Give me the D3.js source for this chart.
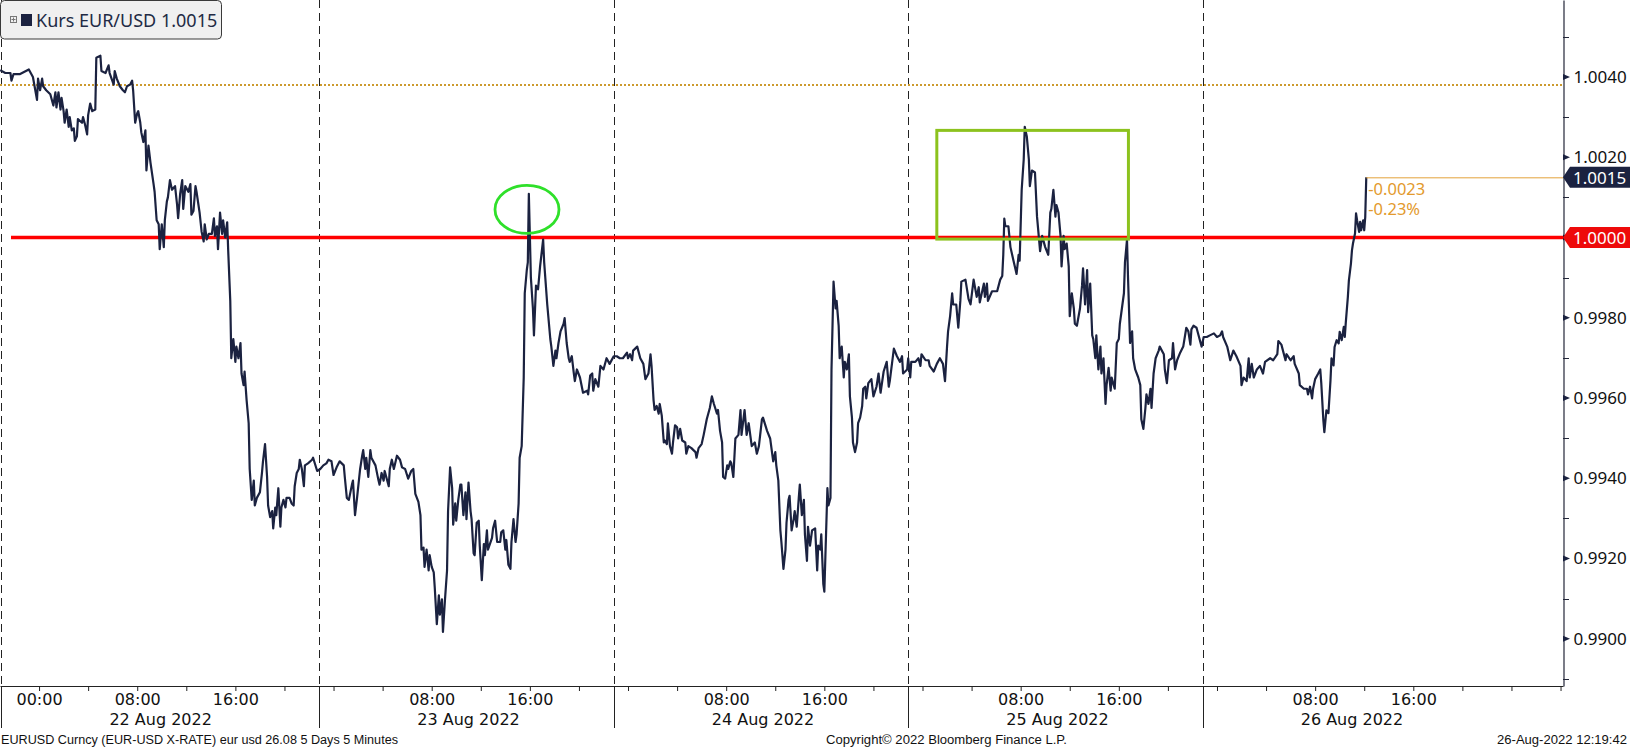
<!DOCTYPE html>
<html><head><meta charset="utf-8">
<script src="https://cdn.jsdelivr.net/npm/d3@7"></script>
<style>html,body{margin:0;padding:0;background:#fff}svg{display:block}</style>
</head><body>
<svg id="chart" width="1630" height="747"></svg>
<script>
// ---------- data ----------
const seriesName = "Kurs EUR/USD";
const lastValue = 1.0015;
const prevClose = 1.0038;
const parityLevel = 1.0000;
const dayLabels = ["22 Aug 2022", "23 Aug 2022", "24 Aug 2022", "25 Aug 2022", "26 Aug 2022"];
const majorYTicks = [0.9900, 0.9920, 0.9940, 0.9960, 0.9980, 1.0000, 1.0020, 1.0040];
const minorYTicks = [0.9890, 0.9910, 0.9930, 0.9950, 0.9970, 0.9990, 1.0010, 1.0030, 1.0050];
const footerLeft = "EURUSD Curncy (EUR-USD X-RATE) eur usd 26.08 5 Days 5 Minutes";
const footerMid = "Copyright\u00A9 2022 Bloomberg Finance L.P.";
const footerRight = "26-Aug-2022 12:19:42";
// annotations in data units: minutes since 22 Aug 2022 00:00 and rate
const ellipseNote = [2386, 1.0007];
const boxNote = [4390, 5327, 1.00267, 0.99996];
// EUR/USD, [minutes since 22 Aug 2022 00:00, rate]
const rate = [
[-190,1.00417],[-165,1.00410],[-140,1.00410],[-135,1.00391],[-125,1.00407],[-95,1.00407],[-50,1.00419],[-30,1.00400],[-10,1.00343],[-5,1.00396],[5,1.00367],[15,1.00396],[20,1.00377],[35,1.00367],[55,1.00357],[70,1.00329],[80,1.00362],[85,1.00324],[95,1.00362],[105,1.00319],[110,1.00348],[120,1.00315],[125,1.00286],[135,1.00319],[145,1.00276],[150,1.00300],[160,1.00267],[170,1.00272],[175,1.00241],[185,1.00252],[190,1.00295],[210,1.00286],[215,1.00300],[225,1.00281],[235,1.00257],[240,1.00305],[250,1.00334],[260,1.00315],[275,1.00319],[280,1.00448],[300,1.00453],[305,1.00415],[325,1.00410],[340,1.00429],[345,1.00410],[365,1.00381],[370,1.00415],[380,1.00396],[395,1.00377],[410,1.00367],[420,1.00362],[430,1.00377],[445,1.00381],[455,1.00391],[460,1.00367],[470,1.00286],[480,1.00310],[485,1.00315],[495,1.00286],[500,1.00262],[510,1.00238],[520,1.00267],[525,1.00167],[535,1.00229],[545,1.00186],[560,1.00133],[565,1.00114],[575,1.00043],[585,1.00033],[590,0.99971],[600,1.00033],[610,0.99976],[615,1.00043],[625,1.00090],[630,1.00100],[640,1.00143],[650,1.00119],[665,1.00128],[675,1.00081],[680,1.00048],[690,1.00109],[700,1.00143],[705,1.00071],[715,1.00128],[730,1.00114],[740,1.00133],[745,1.00057],[755,1.00066],[765,1.00128],[770,1.00114],[785,1.00062],[795,1.00014],[805,0.99990],[810,1.00033],[820,0.99995],[830,1.00009],[845,1.00009],[855,1.00048],[860,1.00004],[870,1.00028],[875,0.99971],[885,1.00062],[895,1.00009],[900,1.00043],[910,1.00000],[920,1.00038],[925,0.99966],[935,0.99842],[940,0.99699],[950,0.99747],[960,0.99690],[965,0.99728],[975,0.99699],[985,0.99737],[990,0.99661],[1000,0.99632],[1005,0.99666],[1015,0.99594],[1025,0.99537],[1030,0.99423],[1040,0.99346],[1050,0.99394],[1055,0.99332],[1065,0.99351],[1080,0.99365],[1090,0.99413],[1095,0.99442],[1105,0.99485],[1115,0.99403],
[1120,0.99332],[1130,0.99303],[1140,0.99318],[1145,0.99275],[1155,0.99327],[1160,0.99308],[1170,0.99375],[1180,0.99279],[1185,0.99327],[1195,0.99346],[1205,0.99327],[1210,0.99351],[1225,0.99351],[1235,0.99337],[1245,0.99332],[1250,0.99380],[1260,0.99413],[1270,0.99423],[1275,0.99446],[1285,0.99423],[1295,0.99380],[1300,0.99432],[1315,0.99437],[1335,0.99446],[1340,0.99451],[1360,0.99418],[1375,0.99423],[1390,0.99432],[1405,0.99437],[1415,0.99446],[1430,0.99442],[1440,0.99408],[1455,0.99427],[1470,0.99442],[1490,0.99432],[1495,0.99403],[1505,0.99351],[1515,0.99346],[1530,0.99384],[1535,0.99394],[1545,0.99308],[1555,0.99351],[1560,0.99375],[1570,0.99423],[1580,0.99456],[1585,0.99470],[1595,0.99423],[1600,0.99451],[1610,0.99403],[1620,0.99470],[1625,0.99451],[1645,0.99432],[1660,0.99394],[1665,0.99384],[1675,0.99413],[1685,0.99394],[1690,0.99418],[1710,0.99380],[1715,0.99423],[1725,0.99446],[1735,0.99423],[1750,0.99456],[1765,0.99446],[1775,0.99427],[1790,0.99423],[1805,0.99399],[1820,0.99418],[1830,0.99423],[1840,0.99361],[1855,0.99341],[1865,0.99308],[1870,0.99222],[1880,0.99227],[1885,0.99179],[1895,0.99222],[1905,0.99170],[1910,0.99208],[1920,0.99179],[1930,0.99165],[1935,0.99127],[1945,0.99036],[1955,0.99108],[1960,0.99060],[1970,0.99098],[1975,0.99017],[1985,0.99098],[1995,0.99170],[2000,0.99318],[2010,0.99427],[2020,0.99375],[2025,0.99284],[2035,0.99337],[2040,0.99294],[2050,0.99346],[2060,0.99384],[2065,0.99384],[2075,0.99308],[2085,0.99365],[2090,0.99298],[2100,0.99389],[2110,0.99318],[2115,0.99298],[2125,0.99213],[2130,0.99208],[2140,0.99289],[2150,0.99294],[2155,0.99232],[2165,0.99146],[2175,0.99236],[2180,0.99208],[2190,0.99270],[2195,0.99222],[2215,0.99251],[2220,0.99275],[2230,0.99294],[2240,0.99241],[2255,0.99241],[2260,0.99265],[2270,0.99270],[2280,0.99222],[2285,0.99246],[2295,0.99184],[2305,0.99174],[2310,0.99241],[2320,0.99298],[2330,0.99241],[2335,0.99260],[2345,0.99337],[2350,0.99451],[2360,0.99480],[2370,0.99651],[2375,0.99861],[2385,0.99919],[2390,0.99938],[2395,1.00109],
[2405,0.99900],[2415,0.99823],[2420,0.99756],[2430,0.99880],[2440,0.99871],[2450,0.99928],[2465,0.99995],[2470,0.99938],[2485,0.99833],[2500,0.99747],[2505,0.99728],[2515,0.99680],[2525,0.99718],[2530,0.99699],[2540,0.99737],[2550,0.99766],[2565,0.99785],[2570,0.99799],[2580,0.99737],[2590,0.99699],[2595,0.99690],[2605,0.99704],[2615,0.99661],[2620,0.99642],[2630,0.99671],[2645,0.99651],[2660,0.99613],[2680,0.99618],[2685,0.99609],[2695,0.99656],[2705,0.99661],[2710,0.99618],[2720,0.99647],[2735,0.99628],[2745,0.99680],[2760,0.99671],[2775,0.99699],[2790,0.99685],[2810,0.99704],[2825,0.99704],[2840,0.99699],[2855,0.99699],[2875,0.99713],[2880,0.99699],[2890,0.99709],[2900,0.99694],[2905,0.99718],[2925,0.99728],[2940,0.99699],[2955,0.99685],[2965,0.99647],[2980,0.99661],[2990,0.99709],[2995,0.99680],[3005,0.99594],[3010,0.99570],[3020,0.99580],[3030,0.99561],[3035,0.99585],[3045,0.99556],[3055,0.99489],[3060,0.99494],[3070,0.99485],[3075,0.99537],[3085,0.99480],[3095,0.99461],[3100,0.99489],[3110,0.99532],[3120,0.99527],[3125,0.99499],[3135,0.99523],[3145,0.99494],[3160,0.99489],[3165,0.99461],[3175,0.99480],[3190,0.99475],[3210,0.99465],[3215,0.99451],[3225,0.99475],[3240,0.99485],[3250,0.99508],[3265,0.99547],[3280,0.99575],[3290,0.99604],[3300,0.99585],[3315,0.99561],[3320,0.99570],[3330,0.99518],[3340,0.99489],[3345,0.99403],[3355,0.99399],[3365,0.99432],[3370,0.99423],[3380,0.99442],[3385,0.99437],[3395,0.99403],[3405,0.99499],[3420,0.99508],[3430,0.99570],[3435,0.99508],[3450,0.99570],[3460,0.99508],[3470,0.99537],[3485,0.99480],[3500,0.99489],[3510,0.99461],[3520,0.99480],[3535,0.99547],[3540,0.99551],[3560,0.99518],[3575,0.99499],[3590,0.99442],[3600,0.99465],[3605,0.99432],[3615,0.99394],[3625,0.99270],[3630,0.99241],[3640,0.99174],[3650,0.99222],[3655,0.99289],[3665,0.99346],[3670,0.99356],[3680,0.99270],[3690,0.99298],
[3695,0.99318],[3705,0.99279],[3715,0.99351],[3720,0.99384],[3730,0.99308],[3740,0.99346],[3745,0.99260],[3755,0.99194],[3760,0.99279],[3770,0.99232],[3780,0.99270],[3795,0.99275],[3805,0.99170],[3810,0.99232],[3820,0.99222],[3825,0.99260],[3835,0.99136],[3840,0.99117],[3845,0.99203],[3855,0.99375],[3860,0.99332],[3870,0.99351],[3875,0.99671],[3885,0.99890],[3895,0.99823],[3900,0.99842],[3910,0.99780],[3915,0.99699],[3925,0.99728],[3935,0.99651],[3940,0.99690],[3950,0.99671],[3960,0.99709],[3965,0.99604],[3975,0.99551],[3980,0.99489],[3990,0.99465],[4000,0.99489],[4005,0.99537],[4015,0.99551],[4025,0.99580],[4030,0.99623],[4040,0.99628],[4045,0.99599],[4055,0.99637],[4070,0.99647],[4080,0.99604],[4095,0.99628],[4105,0.99661],[4115,0.99613],[4130,0.99666],[4145,0.99690],[4155,0.99628],[4160,0.99642],[4180,0.99723],[4195,0.99704],[4210,0.99690],[4220,0.99704],[4225,0.99661],[4245,0.99671],[4250,0.99699],[4260,0.99651],[4265,0.99690],[4285,0.99690],[4300,0.99699],[4310,0.99680],[4315,0.99709],[4335,0.99694],[4350,0.99694],[4355,0.99680],[4375,0.99666],[4390,0.99685],[4405,0.99699],[4420,0.99685],[4430,0.99642],[4440,0.99728],[4445,0.99766],[4455,0.99804],[4465,0.99861],[4470,0.99833],[4485,0.99833],[4495,0.99775],[4505,0.99842],[4510,0.99890],[4530,0.99895],[4545,0.99847],[4555,0.99833],[4570,0.99895],[4585,0.99852],[4595,0.99876],[4600,0.99838],[4620,0.99885],[4625,0.99852],[4635,0.99885],[4640,0.99842],[4660,0.99866],[4685,0.99866],[4700,0.99895],[4710,0.99904],[4715,0.99957],[4720,1.00047],[4725,1.00028],[4740,1.00028],[4750,0.99976],[4765,0.99942],[4780,0.99909],[4790,0.99957],[4795,0.99942],[4805,1.00119],[4815,1.00195],[4820,1.00276],[4830,1.00252],[4840,1.00195],[4845,1.00128],[4855,1.00167],[4870,1.00162],[4880,1.00052],[4895,0.99966],[4905,1.00004],[4920,0.99976],[4935,0.99957],[4945,1.00062],[4950,1.00071],[4960,1.00119],[4970,1.00052],[4975,1.00081],[4985,1.00062],[4995,1.00004],
[5000,0.99928],[5010,1.00004],[5015,0.99971],[5025,0.99985],[5035,0.99928],[5040,0.99804],[5050,0.99861],[5060,0.99823],[5065,0.99785],[5075,0.99780],[5090,0.99823],[5100,0.99880],[5105,0.99923],[5115,0.99833],[5125,0.99919],[5130,0.99814],[5140,0.99885],[5150,0.99756],[5155,0.99747],[5165,0.99699],[5170,0.99756],[5180,0.99671],[5190,0.99728],[5195,0.99661],[5205,0.99699],[5215,0.99585],[5220,0.99632],[5230,0.99675],[5240,0.99618],[5245,0.99651],[5255,0.99632],[5260,0.99623],[5270,0.99737],[5280,0.99747],[5285,0.99785],[5295,0.99823],[5305,0.99861],[5310,0.99938],[5320,0.99995],[5325,0.99900],[5335,0.99737],[5345,0.99766],[5350,0.99699],[5360,0.99671],[5375,0.99651],[5385,0.99632],[5390,0.99547],[5400,0.99523],[5410,0.99575],[5415,0.99609],[5425,0.99585],[5435,0.99623],[5440,0.99575],[5450,0.99661],[5460,0.99699],[5475,0.99718],[5480,0.99728],[5500,0.99709],[5505,0.99671],[5515,0.99637],[5525,0.99694],[5540,0.99699],[5545,0.99737],[5555,0.99671],[5565,0.99694],[5580,0.99713],[5595,0.99728],[5610,0.99775],[5620,0.99766],[5630,0.99733],[5635,0.99771],[5645,0.99780],[5660,0.99775],[5680,0.99737],[5685,0.99728],[5695,0.99752],[5710,0.99752],[5725,0.99756],[5745,0.99761],[5760,0.99752],[5775,0.99756],[5785,0.99766],[5790,0.99752],[5810,0.99728],[5825,0.99694],[5840,0.99718],[5855,0.99704],[5875,0.99680],[5880,0.99632],[5890,0.99651],[5905,0.99642],[5915,0.99699],[5920,0.99651],[5930,0.99685],[5940,0.99651],[5955,0.99671],[5970,0.99680],[5985,0.99661],[5995,0.99690],[6020,0.99699],[6035,0.99694],[6055,0.99709],[6060,0.99742],[6075,0.99733],[6095,0.99694],[6100,0.99709],[6120,0.99694],[6135,0.99704],[6140,0.99685],[6160,0.99661],[6165,0.99632],[6185,0.99623],[6200,0.99623],[6205,0.99609],[6215,0.99628],[6225,0.99599],[6230,0.99623],[6240,0.99647],[6255,0.99661],[6265,0.99671],
[6270,0.99637],[6280,0.99545],[6285,0.99515],[6295,0.99569],[6305,0.99562],[6315,0.99644],[6320,0.99699],[6330,0.99681],[6335,0.99727],[6345,0.99744],[6355,0.99736],[6360,0.99765],[6370,0.99744],[6380,0.99777],[6385,0.99752],[6390,0.99789],[6400,0.99852],[6405,0.99893],[6415,0.99935],[6420,0.99968],[6425,0.99985],[6435,1.00010],[6440,1.00060],[6445,1.00043],[6455,1.00014],[6460,1.00039],[6465,1.00018],[6475,1.00043],[6480,1.00018],[6485,1.00051],[6490,1.00150]
];

// ---------- setup ----------
const W = 1630, H = 747;
const plotL = 0, plotR = 1563, plotT = 0, plotB = 686;
const lineColor = "#1b2240";
const base = new Date(2022, 7, 22, 0, 0);
const toDate = m => new Date(base.getTime() + m * 60000);

const x = d3.scaleTime()
  .domain([new Date(2022, 7, 21, 20, 49), new Date(2022, 7, 27, 4, 12)])
  .range([plotL, plotR]);
const y = d3.scaleLinear().domain([0.98882, 1.00592]).range([plotB, plotT]);

const svg = d3.select("#chart");
svg.append("rect").attr("width", W).attr("height", H).attr("fill", "#fff");

// day separators (FX trading day roll, ~22:50 local)
const dayStarts = [x.domain()[0]].concat([22, 23, 24, 25].map(d => new Date(2022, 7, d, 22, 50)));
const sepG = svg.append("g");
dayStarts.forEach((d, i) => {
  const xx = Math.max(1, Math.round(x(d))) + 0.5;
  sepG.append("line").attr("x1", xx).attr("x2", xx).attr("y1", plotT).attr("y2", plotB)
    .attr("stroke", "#222").attr("stroke-width", 1).attr("stroke-dasharray", "8,5");
  sepG.append("line").attr("x1", xx).attr("x2", xx).attr("y1", plotB).attr("y2", 728)
    .attr("stroke", "#222").attr("stroke-width", 1);
});

// prior close dotted line
svg.append("line").attr("x1", plotL).attr("x2", plotR)
  .attr("y1", y(prevClose)).attr("y2", y(prevClose))
  .attr("stroke", "#cc9a2e").attr("stroke-width", 2).attr("stroke-dasharray", "2,2");

// parity line
svg.append("line").attr("x1", 11).attr("x2", plotR)
  .attr("y1", y(parityLevel)).attr("y2", y(parityLevel))
  .attr("stroke", "#ff0000").attr("stroke-width", 3.6);

// price line
const line = d3.line().x(d => x(toDate(d[0]))).y(d => y(d[1]));
svg.append("path").datum(rate).attr("d", line)
  .attr("fill", "none").attr("stroke", lineColor).attr("stroke-width", 2.2)
  .attr("stroke-linejoin", "round");

// annotations
svg.append("ellipse")
  .attr("cx", x(toDate(ellipseNote[0]))).attr("cy", y(ellipseNote[1]))
  .attr("rx", 32).attr("ry", 24)
  .attr("fill", "none").attr("stroke", "#2fe02a").attr("stroke-width", 2.8);
svg.append("rect")
  .attr("x", x(toDate(boxNote[0]))).attr("y", y(boxNote[2]))
  .attr("width", x(toDate(boxNote[1])) - x(toDate(boxNote[0])))
  .attr("height", y(boxNote[3]) - y(boxNote[2]))
  .attr("fill", "none").attr("stroke", "#8cc21e").attr("stroke-width", 3);

// last value connector + change labels
const last = rate[rate.length - 1];
const lx = x(toDate(last[0])), ly = y(lastValue);
svg.append("line").attr("x1", lx).attr("x2", plotR).attr("y1", ly + 0.5).attr("y2", ly + 0.5)
  .attr("stroke", "#e3a23b").attr("stroke-width", 1);
const chg = (lastValue - prevClose).toFixed(4);
const pct = ((lastValue / prevClose - 1) * 100).toFixed(2) + "%";
[chg, pct].forEach((t, i) => {
  svg.append("text").attr("x", lx + 2).attr("y", ly + 11 + i * 20)
    .attr("dominant-baseline", "central")
    .attr("font-family", "Noto Sans, sans-serif").attr("font-size", 16.5)
    .attr("fill", "#e39a2d").text(t);
});

// bottom axis
const tickTimes = [];
for (let d = 22; d <= 27; d++) for (let h = 0; h < 24; h += 4) {
  const t = new Date(2022, 7, d, h, 0);
  if (t >= x.domain()[0] && t <= x.domain()[1]) tickTimes.push(t);
}
const fmt = d3.timeFormat("%H:%M");
const xAxis = d3.axisBottom(x).tickValues(tickTimes).tickSize(5).tickSizeOuter(0).tickPadding(3)
  .tickFormat(d => {
    const h = d.getHours();
    if (h === 8 || h === 16) return fmt(d);
    if (h === 0 && d.getDate() === 22) return fmt(d);
    return "";
  });
const xg = svg.append("g").attr("transform", `translate(0,${plotB})`).call(xAxis);
xg.select(".domain").attr("stroke", "#222");
xg.selectAll(".tick line").attr("stroke", "#222");
xg.selectAll("text").attr("font-family", "DejaVu Sans, sans-serif").attr("font-size", 16).attr("fill", "#111");

// day labels
dayLabels.forEach((lab, i) => {
  const s = i === 0 ? x.domain()[0] : new Date(2022, 7, 21 + i, 23, 0);
  const e = new Date(2022, 7, 22 + i, 23, 0);
  const cx = (x(s) + x(e)) / 2;
  svg.append("text").attr("x", cx).attr("y", 725).attr("text-anchor", "middle")
    .attr("font-family", "DejaVu Sans, sans-serif").attr("font-size", 16).attr("fill", "#111")
    .text(lab);
});

// right axis
const yAxis = d3.axisRight(y).tickValues(majorYTicks).tickSize(0).tickSizeOuter(0).tickPadding(10)
  .tickFormat(d3.format(".4f"));
const yg = svg.append("g").attr("transform", `translate(${plotR + 0.5},0)`).call(yAxis);
yg.select(".domain").attr("stroke", "#222638").attr("stroke-width", 1.2);
yg.selectAll("text").attr("font-family", "Noto Sans, sans-serif").attr("font-size", 17).attr("fill", "#111");
majorYTicks.forEach(v => {
  const yy = y(v);
  svg.append("path").attr("d", `M${plotR},${yy - 3}L${plotR + 7},${yy}L${plotR},${yy + 3}Z`).attr("fill", "#1b2240");
});
minorYTicks.forEach(v => {
  const yy = Math.round(y(v)) + 0.5;
  if (yy > plotB) return;
  svg.append("line").attr("x1", plotR).attr("x2", plotR + 6).attr("y1", yy).attr("y2", yy)
    .attr("stroke", "#222638").attr("stroke-width", 1);
});

// value tags
function tag(v, fill) {
  const yy = y(v);
  svg.append("path")
    .attr("d", `M${plotR},${yy}L${plotR + 7},${yy - 10.5}L${W},${yy - 10.5}L${W},${yy + 10.5}L${plotR + 7},${yy + 10.5}Z`)
    .attr("fill", fill);
  svg.append("text").attr("x", plotR + 10).attr("y", yy).attr("dominant-baseline", "central")
    .attr("font-family", "Noto Sans, sans-serif").attr("font-size", 17).attr("fill", "#fff")
    .text(v.toFixed(4));
}
tag(lastValue, "#1b2240");
tag(parityLevel, "#ee0a0a");

// legend
const lg = svg.append("g");
lg.append("rect").attr("x", 0.5).attr("y", 0.5).attr("width", 221).attr("height", 38.5).attr("rx", 4)
  .attr("fill", "#f0f0f0").attr("stroke", "#3a3a3a").attr("stroke-width", 1);
lg.append("rect").attr("x", 10.5).attr("y", 16.5).attr("width", 6).attr("height", 6)
  .attr("fill", "none").attr("stroke", "#777").attr("stroke-width", 1);
lg.append("path").attr("d", "M11.5,19.5H15.5M13.5,17.5V21.5").attr("stroke", "#777").attr("stroke-width", 1);
lg.append("rect").attr("x", 21).attr("y", 14).attr("width", 11).attr("height", 12).attr("fill", lineColor);
lg.append("text").attr("x", 36).attr("y", 27)
  .attr("font-family", "Noto Sans, sans-serif").attr("font-size", 18).attr("fill", "#222a44")
  .text(`${seriesName} ${lastValue.toFixed(4)}`);

// footer
const ff = "Liberation Sans, Arial, sans-serif";
svg.append("text").attr("x", 1).attr("y", 744).attr("font-family", ff).attr("font-size", 12.5)
  .attr("textLength", 397).attr("lengthAdjust", "spacingAndGlyphs").attr("fill", "#111").text(footerLeft);
svg.append("text").attr("x", 826).attr("y", 744).attr("font-family", ff).attr("font-size", 12.5)
  .attr("textLength", 241).attr("lengthAdjust", "spacingAndGlyphs").attr("fill", "#111").text(footerMid);
svg.append("text").attr("x", 1497).attr("y", 744).attr("font-family", ff).attr("font-size", 12.5)
  .attr("textLength", 130).attr("lengthAdjust", "spacingAndGlyphs").attr("fill", "#111").text(footerRight);
</script>
</body></html>
